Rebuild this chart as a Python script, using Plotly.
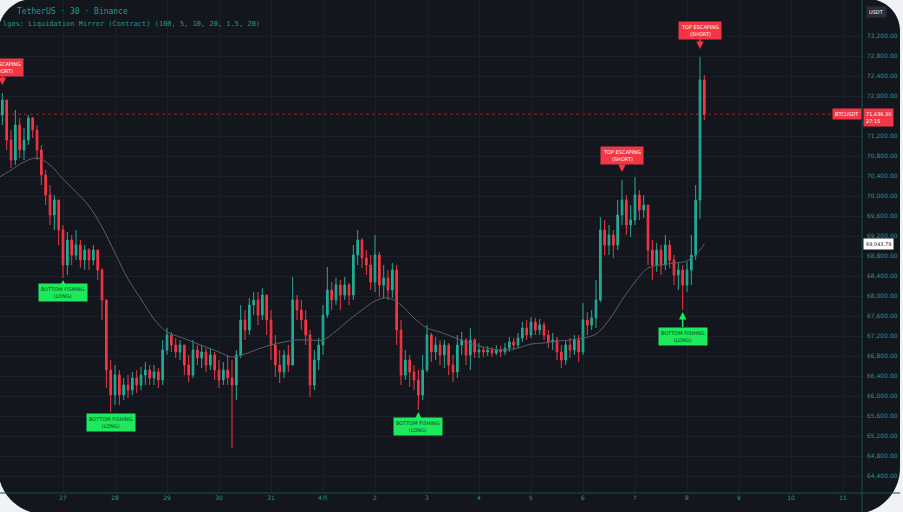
import pandas as pd
import plotly.graph_objects as go

# --- BTCUSDT candles (rebuilt as 2h bars) ---
candle_start = "2024-03-25 18:00"
first_open = 71820

closes = [
    71620, 71920, 71120, 70720, 71420, 70920, 71120, 71560, 71320, 70920,
    70420, 70020, 69620, 69920, 69320, 68620, 69120, 68820, 69020, 68720,
    68920, 68720, 68920, 68520, 67920, 66520, 66020, 66420, 66020, 66220,
    66120, 66360, 66220, 66420, 66520, 66360, 66480, 66320, 66920, 67220,
    67020, 66880, 67020, 66620, 66420, 66920, 66760, 66880, 66620, 66820,
    66520, 66320, 66520, 66360, 66220, 66820, 67520, 67320, 67820, 67920,
    67620, 68020, 67520, 67020, 66620, 66480, 66820, 66620, 67920, 67720,
    67520, 67220, 66220, 66720, 67020, 67620, 68120, 67920, 68220, 68020,
    68220, 68020, 68820, 69120, 68760, 68620, 68280, 68820, 68220, 68360,
    68120, 68520, 67320, 66420, 66720, 66480, 66320, 66020, 66520, 67220,
    66880, 67020, 66820, 67020, 66620, 66480, 67020, 67120, 66820, 67120,
    66880, 66920, 66880, 66920, 66860, 66920, 66880, 66960, 67080, 67020,
    67160, 67360, 67220, 67480, 67320, 67420, 67220, 67080, 67120, 66880,
    66720, 67020, 66920, 67120, 66880, 67520, 67420, 67560, 67920, 69320,
    69020, 69220, 69020, 69620, 69920, 69420, 69520, 70020, 69720, 69820,
    68920, 68620, 68920, 68620, 69020, 68720, 68420, 68520, 68220, 68520,
    68820, 69920, 72320, 71636.30,
]
highs = [
    72000, 72060, 71920, 71320, 71720, 71560, 71360, 71620, 71580, 71420,
    71020, 70520, 70220, 70020, 69920, 69420, 69280, 69220, 69320, 69120,
    69020, 68960, 69020, 68920, 68560, 67920, 66720, 66620, 66520, 66360,
    66420, 66480, 66520, 66580, 66680, 66620, 66620, 66560, 67120, 67360,
    67280, 67160, 67120, 67020, 66820, 67120, 67020, 67020, 66960, 66960,
    66880, 66720, 66680, 66820, 66720, 66920, 67820, 67720, 67960, 68080,
    68080, 68160, 68020, 67720, 67220, 66920, 66920, 67020, 68380, 68020,
    67920, 67720, 67320, 66920, 67160, 67820, 68580, 68280, 68360, 68320,
    68380, 68260, 69020, 69320, 69160, 68920, 68820, 69220, 68880, 68620,
    68520, 68660, 68620, 67520, 66920, 66820, 66620, 66520, 66820, 67420,
    67260, 67180, 67120, 67120, 67060, 66820, 67220, 67280, 67160, 67360,
    67160, 67060, 66980, 67000, 66980, 67020, 67000, 67060, 67180, 67160,
    67260, 67480, 67520, 67580, 67560, 67540, 67480, 67320, 67260, 67180,
    67020, 67120, 67160, 67220, 67220, 67860, 67680, 67720, 68320, 69580,
    69520, 69420, 69320, 69920, 70320, 70020, 69820, 70380, 70120, 70020,
    69820, 69120, 69060, 69020, 69220, 69120, 68820, 68680, 68620, 68680,
    69220, 70220, 72780, 72420,
]
lows = [
    71520, 71420, 70920, 70560, 70620, 70760, 70720, 71020, 71160, 70720,
    70220, 69820, 69420, 69320, 69020, 68360, 68420, 68620, 68720, 68560,
    68520, 68520, 68620, 68320, 67520, 66160, 65680, 65820, 65820, 65920,
    65960, 66020, 66060, 66120, 66220, 66220, 66220, 66160, 66220, 66820,
    66880, 66760, 66720, 66420, 66280, 66360, 66620, 66560, 66480, 66520,
    66320, 66160, 66220, 66220, 64960, 65920, 66760, 67120, 67220, 67620,
    67420, 67520, 67220, 66720, 66380, 66260, 66360, 66480, 66620, 67520,
    67320, 67020, 65980, 66120, 66520, 66820, 67560, 67720, 67820, 67720,
    67920, 67820, 67920, 68620, 68560, 68420, 68120, 68080, 67980, 67960,
    67920, 67960, 67020, 66220, 66320, 66180, 66120, 65720, 65920, 66480,
    66680, 66720, 66620, 66560, 66420, 66280, 66360, 66820, 66620, 66520,
    66760, 66760, 66780, 66800, 66780, 66820, 66780, 66820, 66880, 66920,
    66960, 67080, 67120, 67160, 67220, 67220, 67120, 66960, 66920, 66720,
    66560, 66620, 66760, 66820, 66680, 66820, 67220, 67320, 67360, 67880,
    68820, 68820, 68760, 68920, 69420, 69220, 69180, 69420, 69520, 69560,
    68620, 68320, 68480, 68420, 68520, 68560, 68220, 68120, 67720, 68080,
    68220, 68720, 69540, 71520,
]

# grey moving average, sampled every 6h (every 3rd bar) plus the last bar
ma_values = [
    70360, 70520, 70680, 70760, 70620, 70340, 70080, 69800, 69380, 68860,
    68340, 67940, 67540, 67280, 67180, 67080, 66980, 66880, 66780, 66840,
    66940, 67020, 67080, 67120, 67120, 67120, 67300, 67520, 67720, 67900,
    67960, 67820, 67560, 67360, 67280, 67180, 67080, 67000, 66940, 66920,
    66960, 67040, 67060, 67100, 67120, 67160, 67240, 67520, 67920, 68280,
    68560, 68620, 68660, 68700, 68920, 69043.79,
]

# bar indices where the indicator printed its labels
top_signals = [1, 144, 162]
bottom_signals = [15, 26, 97, 158]

# 71,600 sits under the last-price badge in the original, so it is not shown
price_ticks = [64400, 64800, 65200, 65600, 66000, 66400, 66800, 67200,
               67600, 68000, 68400, 68800, 69200, 69600, 70000, 70400,
               70800, 71200, 72000, 72400, 72800, 73200]
day_ticks = ["2024-03-27", "2024-03-28", "2024-03-29", "2024-03-30",
             "2024-03-31", "2024-04-01", "2024-04-02", "2024-04-03",
             "2024-04-04", "2024-04-05", "2024-04-06", "2024-04-07",
             "2024-04-08", "2024-04-09", "2024-04-10", "2024-04-11"]
day_labels = ["27", "28", "29", "30", "31", "4月", "2", "3", "4", "5",
              "6", "7", "8", "9", "10", "11"]

countdown = "27:15"

# --- colours / geometry ---
BG = "#14161e"
PAGE = "#f1f2f6"
UP = "#22ab94"
DOWN = "#f23645"
TEAL_TXT = "#1a9e88"
AXIS_LINE = "#1b4f46"
GRID = "#1b1f29"
SIGNAL_GREEN = "#1de95c"

PLOT_W, PLOT_H = 862, 493


def to_paper(x, y):
    # pixel position in the figure -> paper coordinates of the plot area
    return f"{x / PLOT_W:.5f},{1 - y / PLOT_H:.5f}"


def rounded_card(x0, y0, x1, y1, r_tl, r_tr, r_br, r_bl):
    k = 0.5523
    return (
        f"M {to_paper(x0 + r_tl, y0)} L {to_paper(x1 - r_tr, y0)} "
        f"C {to_paper(x1 - r_tr + k * r_tr, y0)} {to_paper(x1, y0 + r_tr - k * r_tr)} {to_paper(x1, y0 + r_tr)} "
        f"L {to_paper(x1, y1 - r_br)} "
        f"C {to_paper(x1, y1 - r_br + k * r_br)} {to_paper(x1 - r_br + k * r_br, y1)} {to_paper(x1 - r_br, y1)} "
        f"L {to_paper(x0 + r_bl, y1)} "
        f"C {to_paper(x0 + r_bl - k * r_bl, y1)} {to_paper(x0, y1 - r_bl + k * r_bl)} {to_paper(x0, y1 - r_bl)} "
        f"L {to_paper(x0, y0 + r_tl)} "
        f"C {to_paper(x0, y0 + r_tl - k * r_tl)} {to_paper(x0 + r_tl - k * r_tl, y0)} {to_paper(x0 + r_tl, y0)} Z"
    )


times = pd.date_range(candle_start, periods=len(closes), freq="2h")
opens = [first_open] + closes[:-1]
ma_times = list(times[::3]) + [times[-1]]

fig = go.Figure()

fig.add_trace(go.Candlestick(
    x=times, open=opens, high=highs, low=lows, close=closes,
    increasing=dict(line=dict(color=UP, width=1), fillcolor=UP),
    decreasing=dict(line=dict(color=DOWN, width=1), fillcolor=DOWN),
    whiskerwidth=0, hoverinfo="skip", showlegend=False,
))

fig.add_trace(go.Scatter(
    x=ma_times, y=ma_values, mode="lines",
    line=dict(color="#5b5e68", width=1, shape="spline"),
    hoverinfo="skip", showlegend=False,
))

shapes = [
    # dark card with rounded corners
    dict(type="path", xref="paper", yref="paper", layer="below",
         path=rounded_card(-2, -1, 900, 514, 35, 32, 46, 46),
         fillcolor=BG, line=dict(width=0)),
    # axis separators
    dict(type="line", xref="paper", yref="paper", layer="above",
         x0=0, x1=900 / PLOT_W, y0=0, y1=0,
         line=dict(color=AXIS_LINE, width=1)),
    dict(type="line", xref="paper", yref="paper", layer="above",
         x0=1, x1=1, y0=-19 / PLOT_H, y1=1,
         line=dict(color=AXIS_LINE, width=1)),
    # last price line
    dict(type="line", xref="paper", yref="y", layer="below",
         x0=0, x1=1, y0=closes[-1], y1=closes[-1],
         line=dict(color="rgba(242,54,69,0.6)", width=1, dash="dot")),
]

annotations = []
label_font = dict(family="DejaVu Sans", size=5)

top_offsets = {1: -26, 144: -25, 162: -27}
bottom_offsets = {15: 14, 26: 10, 97: 16, 158: 26}

for i in top_signals:
    annotations.append(dict(
        x=times[i], y=highs[i], xref="x", yref="y",
        text="TOP ESCAPING<br>(SHORT)", font=dict(label_font, color="white"),
        bgcolor=DOWN, borderpad=2, align="center",
        showarrow=True, ax=0, ay=top_offsets[i], arrowcolor=DOWN,
        arrowhead=2, arrowwidth=1.5, arrowsize=1, standoff=8,
    ))

for i in bottom_signals:
    annotations.append(dict(
        x=times[i], y=lows[i], xref="x", yref="y",
        text="BOTTOM FISHING<br>(LONG)", font=dict(label_font, color="#0a4a22"),
        bgcolor=SIGNAL_GREEN, borderpad=2, align="center",
        showarrow=True, ax=0, ay=bottom_offsets[i], arrowcolor=SIGNAL_GREEN,
        arrowhead=2, arrowwidth=1.5, arrowsize=1, standoff=2,
    ))

# header text (partly hidden by the rounded corner in the original)
annotations.append(dict(
    x=15 / PLOT_W, y=1 - 12 / PLOT_H, xref="paper", yref="paper",
    xanchor="left", yanchor="middle", showarrow=False,
    text="TetherUS · 30 · Binance",
    font=dict(family="DejaVu Sans Mono", size=8, color=TEAL_TXT),
))
annotations.append(dict(
    x=1 / PLOT_W, y=1 - 24 / PLOT_H, xref="paper", yref="paper",
    xanchor="left", yanchor="middle", showarrow=False,
    text="lges: Liquidation Mirror (Contract) (100, 5, 10, 20, 1.5, 20)",
    font=dict(family="DejaVu Sans Mono", size=7, color=TEAL_TXT),
))

# price scale badges
annotations.append(dict(
    x=1, y=closes[-1], xref="paper", yref="y", xanchor="right",
    yanchor="middle", showarrow=False, text="BTCUSDT",
    font=dict(family="DejaVu Sans", size=5, color="white"),
    bgcolor=DOWN, borderpad=2,
))
annotations.append(dict(
    x=1, y=closes[-1], xref="paper", yref="y", xanchor="left",
    yanchor="top", yshift=6, xshift=1, showarrow=False, align="left",
    text=f"{closes[-1]:,.2f}<br>{countdown}",
    font=dict(family="DejaVu Sans", size=5, color="white"),
    bgcolor=DOWN, borderpad=2,
))
annotations.append(dict(
    x=1, y=ma_values[-1], xref="paper", yref="y", xanchor="left",
    yanchor="middle", xshift=1, showarrow=False,
    text=f"{ma_values[-1]:,.2f}",
    font=dict(family="DejaVu Sans", size=5, color="#131722"),
    bgcolor="white", borderpad=2,
))
annotations.append(dict(
    x=1, y=1, xref="paper", yref="paper", xanchor="left", yanchor="top",
    xshift=4, yshift=-6, showarrow=False, text="USDT",
    font=dict(family="DejaVu Sans", size=5, color="white"),
    bgcolor="#2a2e39", borderpad=2,
))

fig.update_layout(
    width=903, height=512,
    margin=dict(l=0, r=41, t=0, b=19),
    paper_bgcolor=PAGE, plot_bgcolor="rgba(0,0,0,0)",
    shapes=shapes, annotations=annotations,
    hovermode=False, showlegend=False,
    boxgap=0.45,
    xaxis=dict(
        type="date", range=["2024-03-25 18:55", "2024-04-11 08:46"],
        tickvals=day_ticks, ticktext=day_labels, ticks="",
        tickfont=dict(family="DejaVu Sans", size=6, color=TEAL_TXT),
        showgrid=True, gridcolor=GRID, gridwidth=1,
        showline=False, zeroline=False,
        rangeslider=dict(visible=False), fixedrange=True,
    ),
    yaxis=dict(
        side="right", range=[64060, 73920],
        tickvals=price_ticks, ticktext=[f"{v:,.2f}" for v in price_ticks],
        ticks="", ticklabelstandoff=4,
        tickfont=dict(family="DejaVu Sans", size=6, color=TEAL_TXT),
        showgrid=True, gridcolor=GRID, gridwidth=1,
        showline=False, zeroline=False, fixedrange=True,
    ),
)

# the page's default 8px body margin would push the card off the window
fig.write_html("out.html", config={"displayModeBar": False},
               post_script="document.body.style.margin='0';")
